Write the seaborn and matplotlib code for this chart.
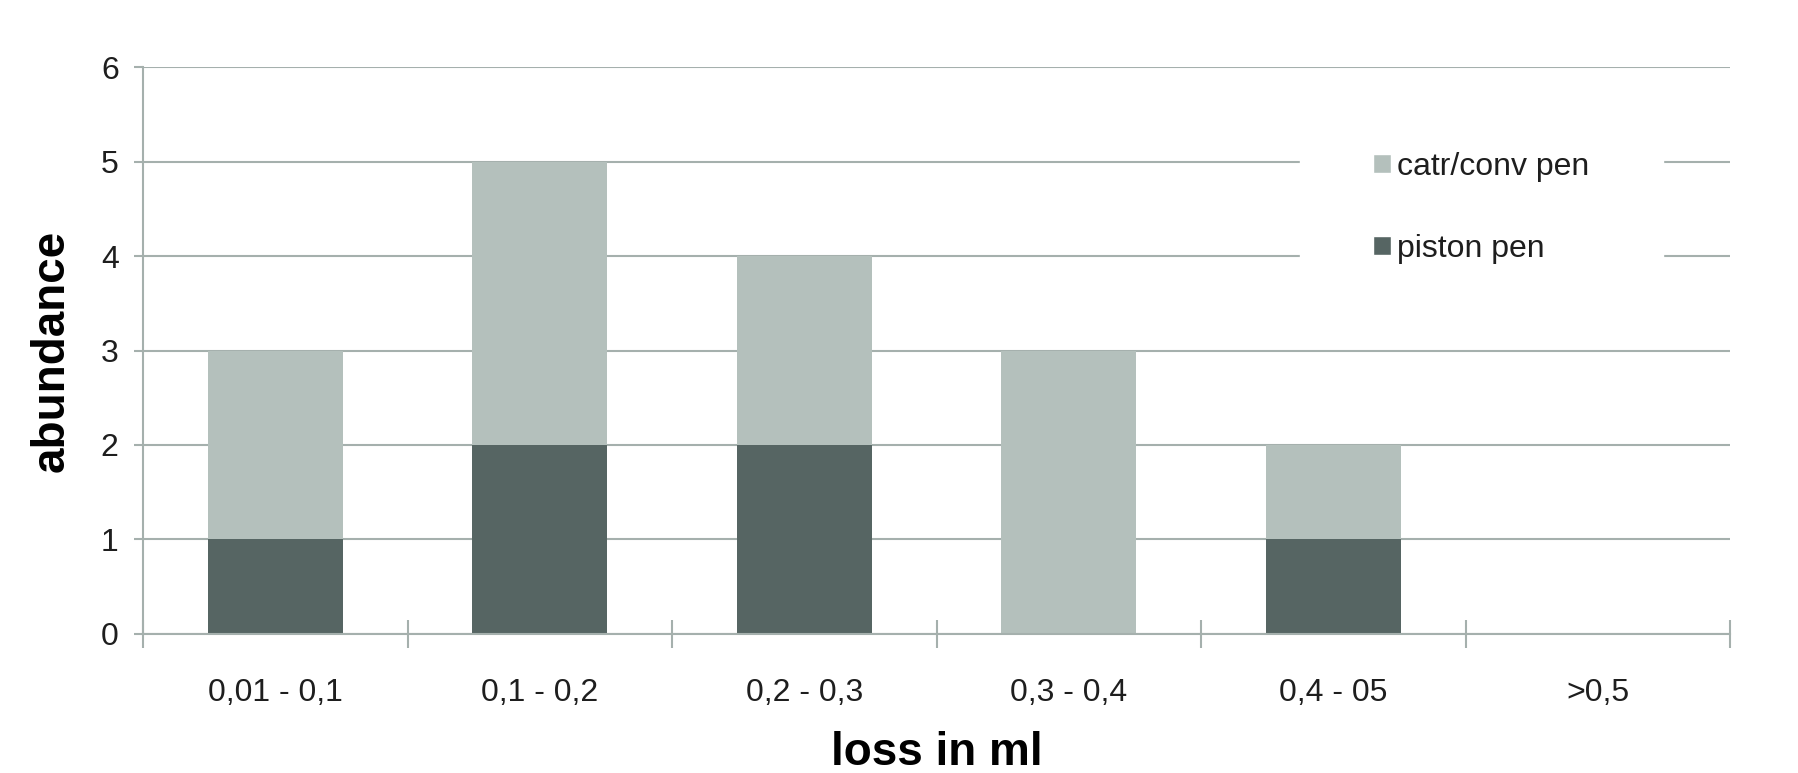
import matplotlib
matplotlib.use("Agg")
import matplotlib.pyplot as plt
from matplotlib.patches import Patch
from matplotlib.ticker import FixedLocator
import pandas as pd
import seaborn as sns

# values
CATEGORIES = ["0,01 - 0,1", "0,1 - 0,2", "0,2 - 0,3", "0,3 - 0,4", "0,4 - 05", ">0,5"]
PISTON = [1, 2, 2, 0, 1, 0]
CATR_CONV = [2, 3, 2, 3, 1, 0]
Y_TICKS = [0, 1, 2, 3, 4, 5, 6]

LIGHT = "#b4c0bc"
DARK = "#566563"
GRID = "#a5b0ad"
TEXT = "#1e1e1e"

sns.set_style("white")
plt.rcParams["font.family"] = ["Liberation Sans", "DejaVu Sans"]

df = pd.DataFrame({"loss": CATEGORIES, "piston": PISTON, "catr": CATR_CONV})
df["total"] = df["piston"] + df["catr"]

fig = plt.figure(figsize=(17.99, 7.73), dpi=100)
ax = fig.add_axes([0.0795, 0.180, 0.8822, 0.733])

# stacked: draw totals in light grey, then piston part over them
sns.barplot(data=df, x="loss", y="total", color=LIGHT, width=0.51,
            saturation=1, errorbar=None, linewidth=0, ax=ax)
sns.barplot(data=df, x="loss", y="piston", color=DARK, width=0.51,
            saturation=1, errorbar=None, linewidth=0, ax=ax)

ax.set_xlim(-0.5, len(CATEGORIES) - 0.5)
ax.set_ylim(0, 6)
ax.set_yticks(Y_TICKS)
ax.set_axisbelow(True)
ax.yaxis.grid(True, color=GRID, lw=1.5)
ax.xaxis.grid(False)

for side in ["top", "right"]:
    ax.spines[side].set_visible(False)
for side in ["left", "bottom"]:
    ax.spines[side].set_color(GRID)
    ax.spines[side].set_linewidth(1.5)

# boundary ticks between categories
ax.xaxis.set_minor_locator(FixedLocator([i - 0.5 for i in range(len(CATEGORIES) + 1)]))
ax.tick_params(axis="x", which="major", length=0, pad=32, labelsize=23, labelcolor=TEXT)
ax.tick_params(axis="x", which="minor", direction="inout", length=20, width=1.5,
               color=GRID, bottom=True)
ax.tick_params(axis="y", which="major", direction="out", length=6.5, width=1.5,
               color=GRID, pad=11, labelsize=23, labelcolor=TEXT, left=True)

ax.set_xlabel("loss in ml", fontsize=33, fontweight="bold", color="black")
ax.set_ylabel("abundance", fontsize=33, fontweight="bold", color="black")
ax.xaxis.set_label_coords(0.5, -0.172)
ax.yaxis.set_label_coords(-0.0436, 0.5)

handles = [Patch(facecolor=LIGHT, label="catr/conv pen"),
           Patch(facecolor=DARK, label="piston pen")]
leg = ax.legend(handles=handles, loc="center left", bbox_to_anchor=(0.7226, 0.731),
                bbox_transform=fig.transFigure, borderaxespad=0, fontsize=23,
                frameon=True, fancybox=False, framealpha=1, facecolor="white",
                edgecolor="white", borderpad=2.3, labelspacing=1.63,
                handlelength=0.55, handleheight=0.55, handletextpad=0.2)
for t in leg.get_texts():
    t.set_color(TEXT)

fig.savefig("out.png", dpi=100)
